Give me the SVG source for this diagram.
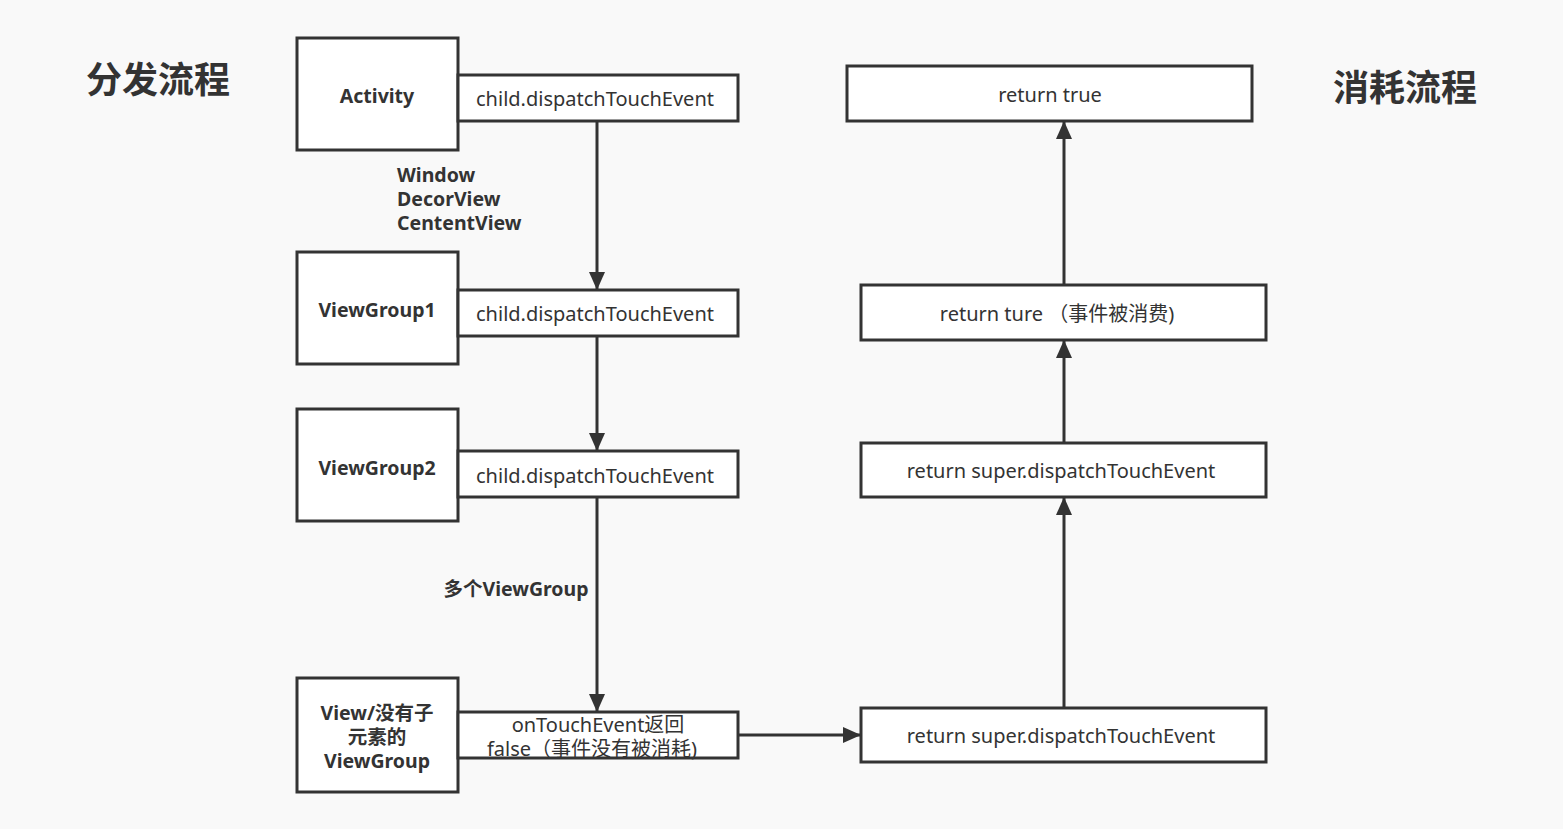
<svg xmlns="http://www.w3.org/2000/svg" width="1563" height="829" viewBox="0 0 1563 829">
<style>
.box{fill:#fff;stroke:#333;stroke-width:3}
.t{font-family:"Noto Sans","Noto Sans CJK SC",sans-serif;font-size:20px;fill:#333;text-anchor:middle}
.b{font-family:"Noto Sans","Noto Sans CJK SC",sans-serif;font-size:19.5px;font-weight:bold;fill:#333}
.title{font-family:"Noto Sans CJK SC",sans-serif;font-size:36px;font-weight:bold;fill:#333}
.c{stroke:#333;stroke-width:3;fill:none}
</style>
<defs>
<marker id="ah" markerUnits="userSpaceOnUse" markerWidth="20" markerHeight="16" refX="18" refY="8" orient="auto">
<path d="M0,0 L18,8 L0,16 Z" fill="#333"/>
</marker>
</defs>
<rect width="1563" height="829" fill="#f9f9f9"/>
<text class="title" x="86" y="93">分发流程</text>
<text class="title" x="1333" y="101">消耗流程</text>
<g id="connectors">
<line class="c" x1="597" y1="121" x2="597" y2="290" marker-end="url(#ah)"/>
<line class="c" x1="597" y1="336" x2="597" y2="451" marker-end="url(#ah)"/>
<line class="c" x1="597" y1="497" x2="597" y2="712" marker-end="url(#ah)"/>
<line class="c" x1="738" y1="735" x2="861" y2="735" marker-end="url(#ah)"/>
<line class="c" x1="1064" y1="708" x2="1064" y2="497" marker-end="url(#ah)"/>
<line class="c" x1="1064" y1="443" x2="1064" y2="340" marker-end="url(#ah)"/>
<line class="c" x1="1064" y1="285" x2="1064" y2="121" marker-end="url(#ah)"/>
</g>
<g id="activity">
<rect class="box" x="297" y="38" width="161" height="112"/>
<text class="b" x="377" y="103" text-anchor="middle">Activity</text>
</g>
<g id="activity-dispatch">
<rect class="box" x="458" y="75" width="280" height="46"/>
<text class="t" x="595" y="106">child.dispatchTouchEvent</text>
</g>
<g id="window-label">
<text class="b" x="397" y="182">Window</text>
<text class="b" x="397" y="206">DecorView</text>
<text class="b" x="397" y="230">CententView</text>
</g>
<g id="viewgroup1">
<rect class="box" x="297" y="252" width="161" height="112"/>
<text class="b" x="377" y="317" text-anchor="middle">ViewGroup1</text>
</g>
<g id="vg1-dispatch">
<rect class="box" x="458" y="290" width="280" height="46"/>
<text class="t" x="595" y="321">child.dispatchTouchEvent</text>
</g>
<g id="viewgroup2">
<rect class="box" x="297" y="409" width="161" height="112"/>
<text class="b" x="377" y="475" text-anchor="middle">ViewGroup2</text>
</g>
<g id="vg2-dispatch">
<rect class="box" x="458" y="451" width="280" height="46"/>
<text class="t" x="595" y="483">child.dispatchTouchEvent</text>
</g>
<g id="multi-label">
<text class="b" x="516" y="596" text-anchor="middle">多个ViewGroup</text>
</g>
<g id="view">
<rect class="box" x="297" y="678" width="161" height="114"/>
<text class="b" x="377" y="720" text-anchor="middle">View/没有子</text>
<text class="b" x="377" y="744" text-anchor="middle">元素的</text>
<text class="b" x="377" y="768" text-anchor="middle">ViewGroup</text>
</g>
<g id="ontouch">
<rect class="box" x="458" y="712" width="280" height="46"/>
<text class="t" x="598" y="732">onTouchEvent返回</text>
<text class="t" x="592" y="756">false（事件没有被消耗)</text>
</g>
<g id="ret-super1">
<rect class="box" x="861" y="708" width="405" height="54"/>
<text class="t" x="1061" y="743">return super.dispatchTouchEvent</text>
</g>
<g id="ret-super2">
<rect class="box" x="861" y="443" width="405" height="54"/>
<text class="t" x="1061" y="478">return super.dispatchTouchEvent</text>
</g>
<g id="ret-ture">
<rect class="box" x="861" y="285" width="405" height="55"/>
<text class="t" x="1057" y="321">return ture （事件被消费)</text>
</g>
<g id="ret-true">
<rect class="box" x="847" y="66" width="405" height="55"/>
<text class="t" x="1050" y="102">return true</text>
</g>
</svg>
